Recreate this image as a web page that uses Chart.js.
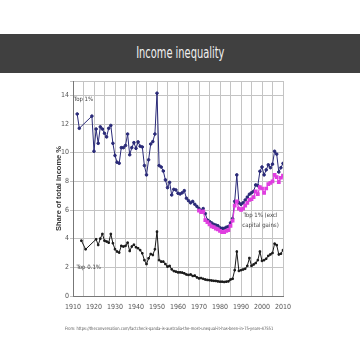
<!DOCTYPE html>
<html>
<head>
<meta charset="utf-8">
<script src="https://cdn.jsdelivr.net/npm/chart.js@4.4.1/dist/chart.umd.min.js"></script>
<style>
  body { margin: 0; background: #fff; }
  #wrap { position: relative; width: 360px; height: 360px; overflow: hidden; }
  #header {
    position: absolute; left: 0; top: 34px; width: 360px; height: 39px;
    background: #404040;
  }
  #header span {
    position: absolute; left: 0; width: 360px; top: 0; text-align: center;
    color: #f0f0f0; font-family: "Liberation Sans Narrow", "DejaVu Sans Condensed", sans-serif;
    font-size: 15px; line-height: 39px;
    transform: scaleX(0.73); transform-origin: 181px 0;
  }
  #source {
    position: absolute; left: 65px; top: 326px; white-space: nowrap;
    font-family: "Liberation Sans Narrow", "DejaVu Sans Condensed", sans-serif;
    font-size: 4.6px; color: #555;
    transform: scaleX(0.89); transform-origin: 0 0;
  }
  canvas { position: absolute; left: 0; top: 0; }
</style>
</head>
<body>
<div id="wrap">
  <div id="header"><span>Income inequality</span></div>
  <canvas id="incomeChart" width="360" height="360"></canvas>
  <div id="source">From: https://theconversation.com/factcheck-qanda-is-australia-the-most-unequal-it-has-been-in-75-years-47551</div>
</div>
<script>
// years 1912..2010, null = no estimate that year
const years = [];
for (let yr = 1912; yr <= 2010; yr++) years.push(yr);

const top1 = [
  12.7, 11.7, null, null, null, null, null, 12.55, 10.1, // 1912-1920
  11.65, 10.65, 11.8, 11.65, 11.35, 11.1, 11.7, 11.9, 10.65, 9.8, // 1921-1930
  9.33, 9.26, 10.35, 10.35, 10.5, 11.3, 9.85, 10.35, 10.7, 10.3, // 1931-1940
  10.75, 10.45, 10.4, 9.1, 8.45, 9.5, 10.6, 10.77, 11.3, 14.15, // 1941-1950
  9.1, 9.0, 8.72, 8.1, 7.56, 7.93, 7.05, 7.44, 7.4, 7.17, // 1951-1960
  7.12, 7.2, 7.35, 6.82, 6.65, 6.5, 6.6, 6.4, 6.25, 6.1, // 1961-1970
  5.95, 6.1, 5.75, 5.3, 5.2, 5.1, 5.0, 4.95, 4.9, 4.75, // 1971-1980
  4.72, 4.72, 4.8, 4.85, 5.1, 5.4, 6.6, 8.45, 6.5, 6.4, // 1981-1990
  6.5, 6.7, 6.9, 7.1, 7.2, 7.3, 7.75, 7.7, 8.7, 9.0, // 1991-2000
  8.45, 8.8, 9.15, 8.95, 9.2, 10.1, 9.9, 8.65, 8.95, 9.25 // 2001-2010
];

const top1ExclGains = [
  null, null, null, null, null, null, null, null, null, // 1912-1920
  null, null, null, null, null, null, null, null, null, null, // 1921-1930
  null, null, null, null, null, null, null, null, null, null, // 1931-1940
  null, null, null, null, null, null, null, null, null, null, // 1941-1950
  null, null, null, null, null, null, null, null, null, null, // 1951-1960
  null, null, null, null, null, null, null, null, null, 5.95, // 1961-1970
  5.85, 5.9, 5.3, 5.15, 5.0, 4.85, 4.8, 4.7, 4.65, 4.55, // 1971-1980
  4.45, 4.45, 4.55, 4.6, 4.9, 5.25, 6.3, 6.6, 6.1, 6.0, // 1981-1990
  6.1, 6.3, 6.5, 6.7, 6.75, 6.9, 7.3, 7.1, 7.6, 7.5, // 1991-2000
  7.2, 7.5, 7.8, 7.9, 8.0, 8.45, 8.3, 7.95, 8.25, 8.4 // 2001-2010
];

const top01 = [
  null, null, 3.86, null, 3.26, null, null, null, null, // 1912-1920
  3.96, 3.56, 4.0, 4.33, 3.86, 3.8, 3.72, 4.33, 3.68, 3.26, // 1921-1930
  3.1, 3.03, 3.5, 3.45, 3.5, 3.72, 3.14, 3.45, 3.58, 3.4, // 1931-1940
  3.33, 3.2, 2.98, 2.5, 2.23, 2.63, 2.93, 2.86, 3.26, 4.49, // 1941-1950
  2.5, 2.4, 2.4, 2.23, 2.05, 2.1, 1.86, 1.74, 1.7, 1.65, // 1951-1960
  1.65, 1.63, 1.58, 1.5, 1.47, 1.5, 1.4, 1.42, 1.3, 1.23, // 1961-1970
  1.25, 1.2, 1.15, 1.12, 1.1, 1.08, 1.06, 1.05, 1.02, 1.0, // 1971-1980
  1.0, 0.98, 1.0, 1.02, 1.15, 1.2, 1.8, 3.1, 1.75, 1.8, // 1981-1990
  1.85, 1.9, 2.1, 2.65, 2.1, 2.2, 2.3, 2.5, 3.1, 2.45, // 1991-2000
  2.5, 2.6, 2.8, 2.9, 3.0, 3.65, 3.55, 2.9, 2.95, 3.2 // 2001-2010
];

const yTicks = [0, 2, 4, 6, 8, 10, 12, 14];
const xTickYears = [1910, 1920, 1930, 1940, 1950, 1960, 1970, 1980, 1990, 2000, 2010];

const narrow = '"Liberation Sans Narrow", "DejaVu Sans Condensed", sans-serif';

function toPoints(values) {
  return years.map((yr, i) => ({ x: yr, y: values[i] }));
}

// series names written inside the plot
const seriesLabels = {
  id: "seriesLabels",
  afterDatasetsDraw(chart) {
    const { ctx, scales } = chart;
    const x = scales.x;
    const y = scales.y;
    ctx.save();
    ctx.fillStyle = "#444";
    ctx.font = "6px " + narrow;
    ctx.textAlign = "center";
    ctx.textBaseline = "middle";
    ctx.fillText("Top 1%", x.getPixelForValue(1915), y.getPixelForValue(13.7));
    ctx.fillText("Top 0.1%", x.getPixelForValue(1917.5), y.getPixelForValue(2.0));
    ctx.fillText("Top 1% (excl", x.getPixelForValue(1999.3), y.getPixelForValue(5.65));
    ctx.fillText("capital gains)", x.getPixelForValue(1999.3), y.getPixelForValue(4.95));
    ctx.restore();
  },
};

window.onload = function () {
  const ctx = document.getElementById("incomeChart").getContext("2d");
  new Chart(ctx, {
    type: "line",
    data: {
      datasets: [
        {
          label: "Top 1%",
          data: toPoints(top1),
          borderColor: "#2a2a78",
          backgroundColor: "#2a2a78",
          borderWidth: 1,
          pointRadius: 1.3,
          pointStyle: "circle",
          spanGaps: true,
          order: 2,
        },
        {
          label: "Top 1% (excl capital gains)",
          data: toPoints(top1ExclGains),
          borderColor: "#e03ee0",
          backgroundColor: "#e03ee0",
          borderWidth: 1.2,
          pointRadius: 1.8,
          pointStyle: "rect",
          spanGaps: true,
          order: 1,
        },
        {
          label: "Top 0.1%",
          data: toPoints(top01),
          borderColor: "#1a1a1a",
          backgroundColor: "#1a1a1a",
          borderWidth: 1,
          pointRadius: 1.1,
          pointStyle: "rect",
          spanGaps: true,
          order: 3,
        },
      ],
    },
    options: {
      responsive: false,
      animation: false,
      layout: { padding: { left: 50, right: 77, top: 81, bottom: 44 } },
      plugins: {
        legend: { display: false },
        tooltip: { enabled: false },
      },
      scales: {
        x: {
          type: "linear",
          min: 1910,
          max: 2010,
          afterFit: (s) => { s.height = 20; },
          grid: { color: "#c4c4c4", lineWidth: 1, drawTicks: false },
          border: { color: "#777", width: 1 },
          ticks: {
            stepSize: 5,
            autoSkip: false,
            maxRotation: 0,
            padding: 7,
            color: "#555",
            font: { family: narrow, size: 7 },
            callback: (v) => (xTickYears.includes(v) ? String(v) : ""),
          },
        },
        y: {
          min: 0,
          max: 15,
          afterFit: (s) => { s.width = 23; },
          grid: { color: "#c4c4c4", lineWidth: 1, tickLength: 3 },
          border: { color: "#777", width: 1 },
          title: {
            display: true,
            text: "Share of total income %",
            color: "#333",
            font: { family: "Liberation Sans", size: 7.5, weight: "bold" },
            padding: { top: 4, bottom: 0 },
          },
          ticks: {
            stepSize: 2,
            padding: 1,
            color: "#555",
            font: { family: narrow, size: 7 },
            callback: (v) => (yTicks.includes(v) ? String(v) : ""),
          },
        },
      },
    },
    plugins: [seriesLabels],
  });
};
</script>
</body>
</html>
